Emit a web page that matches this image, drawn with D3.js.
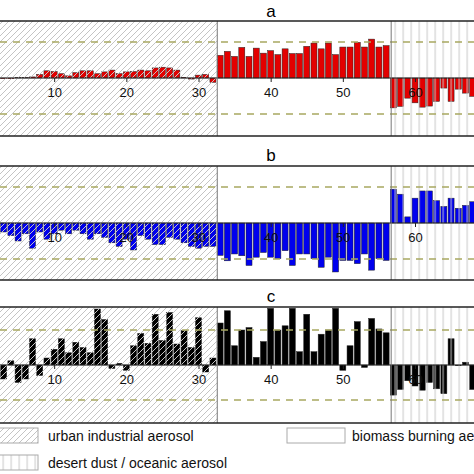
<!DOCTYPE html>
<html><head><meta charset="utf-8">
<script src="https://cdn.jsdelivr.net/npm/d3@7"></script>
<style>body{margin:0;background:#fff}</style>
</head><body>
<svg id="chart" width="474" height="474"></svg>
<script>
// sample index runs 3..68
var startIndex = 3;
var panelA = [-0.02,-0.02,0.01,0.01,0.03,0.1,0.2,0.18,0.12,0.06,0.15,0.2,0.2,0.12,0.17,0.22,0.12,0.17,0.18,0.22,0.2,0.28,0.3,0.28,0.22,0.02,-0.03,0.08,0.1,-0.12,
  0.63,0.74,0.6,0.85,0.6,0.83,0.69,0.76,0.65,0.81,0.68,0.68,0.88,0.97,0.81,0.97,0.65,0.86,0.86,0.99,0.86,1.08,0.86,0.9,
  -0.83,-0.79,-0.56,-0.69,-0.81,-0.78,-0.65,-0.28,-0.65,-0.31,-0.42,-0.51];
var panelB = [-0.25,-0.35,-0.5,-0.3,-0.7,-0.25,-0.45,-0.3,-0.2,-0.3,-0.2,-0.3,-0.45,-0.3,-0.4,-0.55,-0.65,-0.45,-0.75,-0.35,-0.45,-0.6,-0.6,-0.4,-0.45,-0.55,-0.65,-0.7,-0.65,-0.65,
  -0.9,-1.05,-0.86,-0.91,-1.18,-0.95,-0.82,-0.95,-0.99,-0.77,-1.18,-0.86,-0.86,-0.99,-1.23,-0.95,-1.36,-1.04,-1.04,-1.13,-0.86,-1.31,-0.99,-1.04,
  0.94,0.8,0.17,0.69,0.89,0.89,0.62,0.46,0.69,0.41,0.49,0.59];
var panelC = [-0.4,0.12,-0.5,-0.4,0.75,-0.3,0.2,0.45,0.75,0.35,0.65,0.5,0.35,1.6,1.3,-0.1,0.05,-0.15,0.55,0.9,0.62,1.45,0.7,1.5,0.6,0.98,0.5,1.35,-0.2,0.2,
  1.2,1.55,0.55,1.0,1.07,0.22,0.67,1.62,1.0,1.12,1.62,0.38,1.45,0.38,0.88,1.0,1.62,-0.15,0.55,1.24,-0.07,1.33,1.03,0.92,
  -0.86,-0.7,-0.45,-0.6,-0.72,-0.5,-0.68,-0.82,0.75,-0.02,0.08,-0.7];
var xTicks = [10,20,30,40,50,60];
var regionBreaks = [32.6, 56.7];
var legendItems = ["urban industrial aerosol","biomass burning aerosol","desert dust / oceanic aerosol"];

var panels = [
  {name:"a", data:panelA, color:"#e30000", top:21, zero:78, bottom:136, unit:36, titleY:17},
  {name:"b", data:panelB, color:"#0000ee", top:166, zero:223, bottom:280, unit:36, titleY:161},
  {name:"c", data:panelC, color:"#000000", top:307, zero:365, bottom:423, unit:35, titleY:302}
];

var svg = d3.select("#chart");
var x = d3.scaleLinear().domain([0, 60]).range([-18, 415]);
var bw = 6;

var defs = svg.append("defs");
var diag = defs.append("pattern").attr("id","diag").attr("patternUnits","userSpaceOnUse")
  .attr("width",6).attr("height",6);
diag.append("path").attr("d","M-1,7 L7,-1 M-1,1 L1,-1 M5,7 L7,5").attr("stroke","#c4c4c4").attr("stroke-width",1);
var vert = defs.append("pattern").attr("id","vert").attr("patternUnits","userSpaceOnUse")
  .attr("width",8).attr("height",8).attr("x", x(regionBreaks[1]));
vert.append("path").attr("d","M4,0 L4,8").attr("stroke","#c8c8c8").attr("stroke-width",1);

panels.forEach(function(p){
  var y = d3.scaleLinear().domain([-1,1]).range([p.zero + p.unit, p.zero - p.unit]);
  var g = svg.append("g");
  var indices = p.data.map(function(d,i){ return i + startIndex; });

  // bars
  g.selectAll("rect.bar").data(p.data).enter().append("rect")
    .attr("x", function(d,i){ return x(indices[i]) - bw/2; })
    .attr("y", function(d){ return Math.min(y(d), y(0)); })
    .attr("width", bw)
    .attr("height", function(d){ return Math.abs(y(d) - y(0)); })
    .attr("fill", p.color).attr("stroke", "#222").attr("stroke-width", 0.5);

  // region hatching on top of bars
  g.append("rect").attr("x", 0).attr("y", p.top).attr("width", x(regionBreaks[0]))
    .attr("height", p.bottom - p.top).attr("fill", "url(#diag)");
  g.append("rect").attr("x", x(regionBreaks[1])).attr("y", p.top).attr("width", 474 - x(regionBreaks[1]))
    .attr("height", p.bottom - p.top).attr("fill", "url(#vert)");

  // dashed reference lines
  [1,-1].forEach(function(v){
    g.append("line").attr("x1",0).attr("x2",474).attr("y1",y(v)).attr("y2",y(v))
      .attr("stroke","#a8a860").attr("stroke-width",1.3).attr("stroke-dasharray","7,6");
  });

  // zero line
  g.append("line").attr("x1",0).attr("x2",474).attr("y1",y(0)).attr("y2",y(0))
    .attr("stroke","#222").attr("stroke-width",1);

  // region separators
  regionBreaks.forEach(function(b){
    g.append("line").attr("x1",x(b)).attr("x2",x(b)).attr("y1",p.top).attr("y2",p.bottom)
      .attr("stroke","#777").attr("stroke-width",1);
  });

  // frame
  [p.top, p.bottom].forEach(function(yy){
    g.append("line").attr("x1",0).attr("x2",474).attr("y1",yy).attr("y2",yy)
      .attr("stroke","#222").attr("stroke-width",1.5);
  });

  // x axis along zero
  var axis = g.append("g").attr("transform","translate(0," + y(0) + ")")
    .call(d3.axisBottom(x).tickValues(xTicks).tickSize(4).tickSizeOuter(0));
  axis.select(".domain").remove();
  axis.selectAll("line").attr("stroke","#222");
  axis.selectAll("text").attr("font-family","Arial, Liberation Sans, sans-serif")
    .attr("font-size","13px").attr("fill","#111").attr("dy","0.95em");

  svg.append("text").attr("x",271).attr("y",p.titleY).attr("text-anchor","middle")
    .attr("font-family","Arial, Liberation Sans, sans-serif").attr("font-size","17px").text(p.name);
});

// legend
var lg = svg.append("g").attr("font-family","Arial, Liberation Sans, sans-serif").attr("font-size","14px").attr("fill","#111");
lg.append("rect").attr("x",-2).attr("y",428).attr("width",40).attr("height",15).attr("fill","url(#diag)").attr("stroke","#aaa");
lg.append("text").attr("x",48).attr("y",441).text(legendItems[0]);
lg.append("rect").attr("x",287).attr("y",428).attr("width",58).attr("height",15).attr("fill","#fff").attr("stroke","#aaa");
lg.append("text").attr("x",352).attr("y",441).text(legendItems[1]);
lg.append("rect").attr("x",-2).attr("y",455).attr("width",40).attr("height",15).attr("fill","url(#vert)").attr("stroke","#aaa");
lg.append("text").attr("x",48).attr("y",468).text(legendItems[2]);
</script>
</body></html>
